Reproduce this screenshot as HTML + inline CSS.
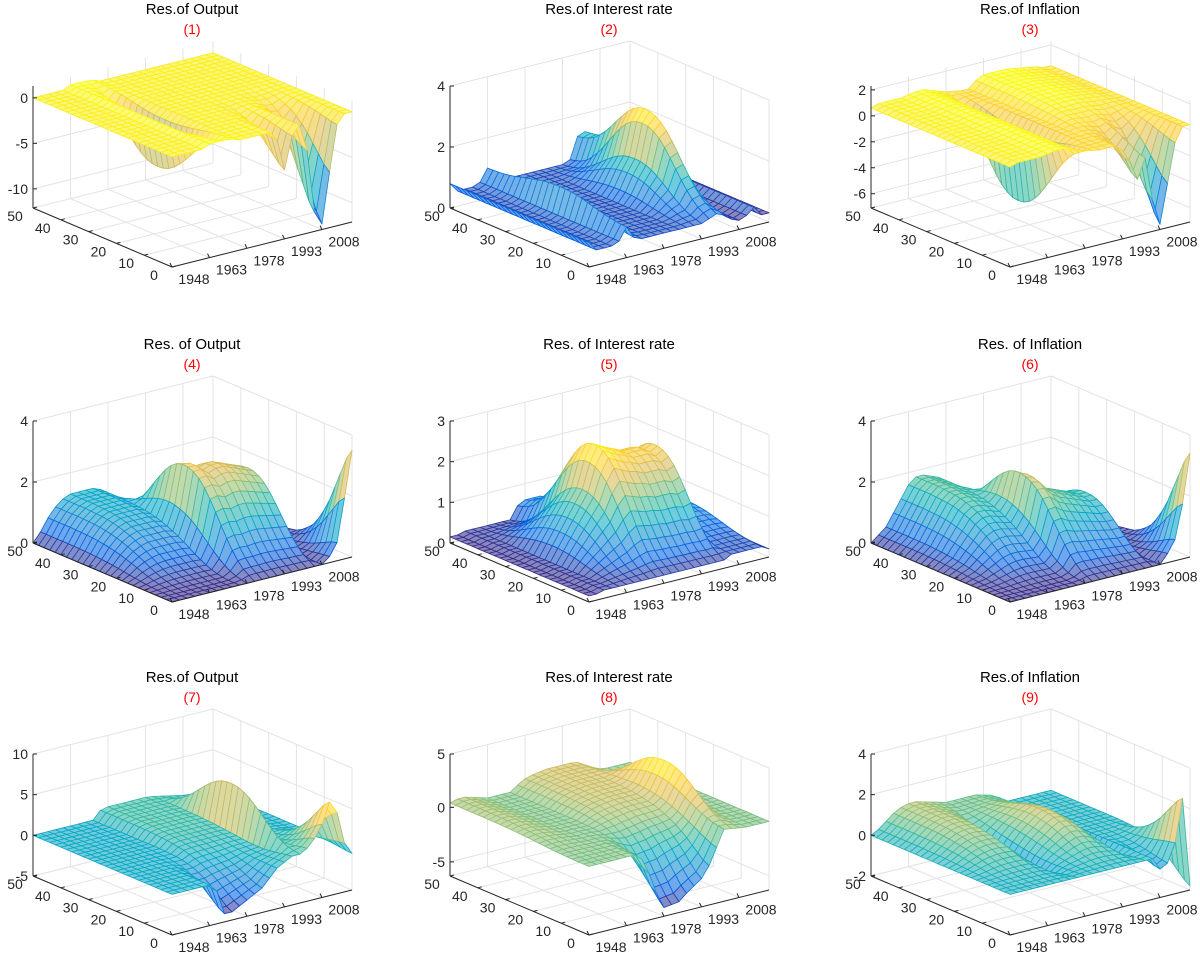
<!DOCTYPE html>
<html><head><meta charset="utf-8"><style>
html,body{margin:0;padding:0;background:#fff;}
svg{display:block;font-family:"Liberation Sans",Arial,sans-serif;}
</style></head>
<body>
<svg id="fig" width="1200" height="955" viewBox="0 0 1200 955"></svg>
<script>
// ---- shared axes data ----
const YEARS = [1948,1951,1954,1957,1960,1963,1966,1969,1972,1975,1978,1981,1984,1987,1990,1993,1996,1999,2002,2005,2008,2011,2014,2017,2020];
const HORIZ = [0,2,4,6,8,10,12,14,16,18,20,22,24,26,28,30,32,34,36,38,40,42,44,46,48,50];
const T_TICKS = [1948,1963,1978,1993,2008];
const H_TICKS = [0,10,20,30,40,50];
// horizon profiles
const SHAPE_FRONT = [1,0.9,0.75,0.6,0.45,0.33,0.23,0.15,0.1,0.06,0.03,0.02,0.01,0,0,0,0,0,0,0,0,0,0,0,0,0];
const SHAPE_MID = [0,0.05,0.1,0.18,0.28,0.4,0.53,0.66,0.78,0.88,0.95,0.99,1,0.99,0.95,0.88,0.78,0.66,0.53,0.4,0.28,0.18,0.1,0.05,0.02,0];
const SHAPE_BACK = [0,0,0,0.02,0.05,0.1,0.16,0.24,0.33,0.43,0.53,0.62,0.7,0.77,0.83,0.88,0.92,0.95,0.97,0.98,0.99,1,1,1,1,1];

// ---- panel 1 ----
const p1Base  = [0,0,0,0,0,0.4,0.4,0.4,0.3,0,0,0,0,0,0,0,0,0,0,0,0,0,0,0,0];
const p1Front = [0,0,0,0,0,0,0,0,0,0,0,0,0,0,-1,-4.5,-1,0,-3,-10,-11.5,-6,-1,0,0];
const p1Mid   = [0,0,0,0,0,0,-1,-6,-1,0,0,0,0,0,0,0,0,0,0,0,0,0,0,0,0];
const p1Back  = [0,0,0,0,0,0,0,0,0,0,0,0,0,0,0,0,0,0,0,0,0,0,0,0,0];
// ---- panel 2 ----
const p2Base  = [0.8,0.5,0.5,0.5,0.6,1.0,0.6,0.5,0.5,0.5,0.5,0.5,0.5,0.5,0.5,0.5,0.6,0.7,0.6,0.4,0.3,0.4,0.6,0.3,0.3];
const p2Front = [0,0,0,0,0,0,0,0,0,0,0,0,0,0,0,0,0,0,0,0,0,0,0,0,0];
const p2Mid   = [0,0,0,0,0,0.4,0.6,0.4,0,0,0,0,0,0.3,0.8,1.2,2.2,2.0,1.0,0.2,0,0,0,0,0];
const p2Back  = [0,0,0,0,0,0,0,0,0,0,0,0,0,0,0,0,0,0.6,0.8,0.6,0,0,0,0,0];
// ---- panel 3 ----
const p3Base  = [0.6,0.8,0.8,0.8,0.8,0.9,1.0,1.0,0.8,0.6,0.4,0.3,0.2,0.2,0.2,0.2,0.2,0.2,0.2,0.3,0.3,0.3,0.3,0.4,0.4];
const p3Front = [0,0,0,0,0,0,0,0,0,0,0,0,0,0,0,-0.5,-1.5,-3,-1.5,-5,-7,-4,-1,0,0];
const p3Mid   = [0,0,0,0,0,0,0,0,0,-1,-6,-1,0,0,0,0,0,0,0,0,0,0,0,0,0];
const p3Back  = [0,0,0,0,0,0,0,0,0,0,0,0,0,0,0.5,0.8,0.8,0.8,0.8,0.6,0.5,0.4,0.3,0,0];
// ---- panel 4 ----
const p4Base  = [0,0,0,0,0,0,0,0,0,0,0,0,0,0,0,0,0,0,0,0,0,0,0,0,0];
const p4Front = [0,0,0,0,0,0,0,0,0,0,0,0,0,0,0,0,0,0,0,0,0,0.2,0.6,2.0,3.5];
const p4Mid   = [0,0,0,0,0,0,0,0,0,0,0.8,2.4,2.6,2.6,2.7,2.7,2.6,2.5,2.4,2.3,0,0,0,0,0];
const p4Back  = [0,0.3,0.7,1.0,1.2,1.3,1.3,1.3,1.3,1.2,1.0,0.6,0.3,0,0,0,0,0,0,0,0,0,0,0,0];
// ---- panel 5 ----
const p5Base  = [0.15,0.15,0.2,0.2,0.2,0.2,0.2,0.2,0.2,0.2,0.2,0.2,0.2,0.2,0.2,0.2,0.2,0.2,0.2,0.3,0.3,0.3,0.3,0.3,0.2];
const p5Front = [0,0,0,0,0,0,0,0,0,0,0,0,0,0,0,0,0,0,0,0,0,0,0,0,0];
const p5Mid   = [0,0,0,0,0.3,0.6,0.9,1.2,1.5,1.9,2.2,2.1,2.0,2.0,1.9,1.9,1.9,1.8,1.9,0.2,0.2,0.2,0.2,0.2,0];
const p5Back  = [0,0,0,0,0,0,0,0,0,0.3,0.4,0.4,0.4,0.3,0.3,0.3,0.3,0.3,0.3,0.3,0.3,0.3,0.3,0.2,0.1];
// ---- panel 6 ----
const p6Base  = [0,0,0,0,0,0,0,0,0,0,0,0,0,0,0,0,0,0,0,0,0,0,0,0,0];
const p6Front = [0,0,0,0,0,0,0,0,0,0,0,0,0,0,0,0,0,0,0,0,0,0.3,0.7,1.8,3.4];
const p6Mid   = [0,0,0,0,0,0,0,0,0,0,0.5,1.8,2.0,1.9,1.9,1.8,1.7,1.6,1.5,1.5,0,0,0,0,0];
const p6Back  = [0,0.2,0.4,0.8,1.2,1.6,1.8,1.8,1.7,1.6,1.4,1.0,0.6,0.3,0,0,0,0,0,0,0,0,0,0,0];
// ---- panel 7 ----
const p7Base  = [0,0,0,0,0,0,0,0,0,0,0,0,0,0,0,0,0,0,0,0,0,0,0,0,0];
const p7Front = [0,0,0,0,0,0,-1,-4,-4,-3.5,-3,-2.5,-2,-1,0,0.5,1,1,1.5,2.5,4,6.5,5,1,-0.5];
const p7Mid   = [0,0,0,0,0,0,0,0,0,0,0,0,0,0,0,0,0,5.5,1,0,0,0,0,0,0];
const p7Back  = [0,0,0,0,0,0,0,0,0,1.0,1.2,1.2,1.2,1.2,1.2,1.2,1.1,0.9,0.7,0.5,0.3,0.2,0.1,0,0];
// ---- panel 8 ----
const p8Base  = [0,0,0,0,0,0,0,0,0,0,0,0.1,0.2,0.3,0.3,0.3,0.3,0.3,0.3,0.2,0.1,0,0,0,0];
const p8Front = [0,0,0,0,0,0,0,-0.5,-2,-4,-5.5,-5.5,-5.5,-5,-4.5,-4,-3,-1.5,0,0,0,0,0,0,0];
const p8Mid   = [0,0,0,0,0,0,0,0,0,0,0,0,0,0,0,0,0,0.5,2.0,3.5,1.5,0.3,0,0,0];
const p8Back  = [0.4,0.6,0.6,0.4,0.2,0,0,0,0,0.5,0.9,1.0,1.0,1.0,1.0,1.0,1.0,0.9,0.5,0.2,0,0,0,0,0];
// ---- panel 9 ----
const p9Base  = [0,0,0,0,0,0,0,0,0,0,0,0,0,0,0,0,0,0,0,0,0,0,0,0,0];
const p9Front = [0,0,0,0,0,0,0,0,0,0,0,0,0,0,0,0,0,0,0,0,-0.6,-0.4,0.5,2.6,-1.8];
const p9Mid   = [0,0,0,0,0,0,0,0,-0.3,-1.0,-0.4,0,0.3,0.6,0.8,0.8,0.6,0.3,-0.6,0,0,0,0,0,0];
const p9Back  = [0,0.2,0.5,0.8,1.0,1.1,1.1,1.0,0.9,0.8,0.7,0.7,0.7,0.7,0.7,0.6,0.5,0.3,0,0,0,0,0,0,0];

const P1_ZTICKS=[-10,-5,0], P2_ZTICKS=[0,2,4], P3_ZTICKS=[-6,-4,-2,0,2];
const P4_ZTICKS=[0,2,4], P5_ZTICKS=[0,1,2,3], P6_ZTICKS=[0,2,4];
const P7_ZTICKS=[-5,0,5,10], P8_ZTICKS=[-5,0,5], P9_ZTICKS=[-2,0,2,4];

const panels = [
 {n:1,title:"Res.of Output",ox:0,oy:0,zmin:-12.1,zmax:1.3,zt:P1_ZTICKS,base:p1Base,front:p1Front,mid:p1Mid,back:p1Back},
 {n:2,title:"Res.of Interest rate",ox:417,oy:0,zmin:0,zmax:4,zt:P2_ZTICKS,base:p2Base,front:p2Front,mid:p2Mid,back:p2Back},
 {n:3,title:"Res.of Inflation",ox:838,oy:0,zmin:-7.1,zmax:2.3,zt:P3_ZTICKS,base:p3Base,front:p3Front,mid:p3Mid,back:p3Back},
 {n:4,title:"Res. of Output",ox:0,oy:335,zmin:0,zmax:4,zt:P4_ZTICKS,base:p4Base,front:p4Front,mid:p4Mid,back:p4Back},
 {n:5,title:"Res. of Interest rate",ox:417,oy:335,zmin:0,zmax:3,zt:P5_ZTICKS,base:p5Base,front:p5Front,mid:p5Mid,back:p5Back},
 {n:6,title:"Res. of Inflation",ox:838,oy:335,zmin:0,zmax:4,zt:P6_ZTICKS,base:p6Base,front:p6Front,mid:p6Mid,back:p6Back},
 {n:7,title:"Res.of Output",ox:0,oy:668,zmin:-5,zmax:10,zt:P7_ZTICKS,base:p7Base,front:p7Front,mid:p7Mid,back:p7Back},
 {n:8,title:"Res.of Interest rate",ox:417,oy:668,zmin:-6.3,zmax:4.9,zt:P8_ZTICKS,base:p8Base,front:p8Front,mid:p8Mid,back:p8Back},
 {n:9,title:"Res.of Inflation",ox:838,oy:668,zmin:-2,zmax:4,zt:P9_ZTICKS,base:p9Base,front:p9Front,mid:p9Mid,back:p9Back}
];

const NS="http://www.w3.org/2000/svg";
const svg=document.getElementById('fig');
function mk(tag,attrs,parent){const e=document.createElementNS(NS,tag);for(const k in attrs)e.setAttribute(k,attrs[k]);(parent||svg).appendChild(e);return e;}

const STOPS=[[0,[53,42,135]],[0.125,[3,99,225]],[0.25,[20,133,212]],[0.375,[6,167,198]],[0.5,[56,185,158]],[0.625,[146,191,115]],[0.75,[217,186,86]],[0.875,[252,206,46]],[1,[249,251,14]]];
function parula(v,w){v=Math.max(0,Math.min(1,v));let i=0;while(i<STOPS.length-2&&v>STOPS[i+1][0])i++;
 const a=STOPS[i],b=STOPS[i+1],f=(v-a[0])/(b[0]-a[0]);
 const c=[0,1,2].map(k=>Math.round((a[1][k]+(b[1][k]-a[1][k])*f)*(1-w)+255*w));
 return `rgb(${c[0]},${c[1]},${c[2]})`;}

panels.forEach(p=>{
 const g=mk('g',{});
 
 
 const tn=t=>(t-1948)/72, hn=h=>h/50;
 const zy=z=>122*(Math.max(p.zmin,Math.min(p.zmax,z))-p.zmin)/(p.zmax-p.zmin);
 const X=(t,h)=>p.ox+172+180*tn(t)-139*hn(h);
 const Yf=(t,h)=>p.oy+267-45*tn(t)-59*hn(h);
 const P=(t,h,z)=>[X(t,h),Yf(t,h)-zy(z)];
 // grid
 const grid=mk('g',{stroke:'#e3e3e3','stroke-width':1,fill:'none'},g);
 
 
 const ln=(a,b,par)=>mk('line',{x1:a[0],y1:a[1],x2:b[0],y2:b[1]},par);
 p.zt.forEach(z=>{ln(P(1948,50,z),P(2020,50,z),grid);ln(P(2020,50,z),P(2020,0,z),grid);});
 T_TICKS.forEach(t=>{ln(P(t,0,p.zmin),P(t,50,p.zmin),grid);ln(P(t,50,p.zmin),P(t,50,p.zmax),grid);});
 H_TICKS.forEach(h=>{ln(P(1948,h,p.zmin),P(2020,h,p.zmin),grid);ln(P(2020,h,p.zmin),P(2020,h,p.zmax),grid);});
 ln(P(2020,50,p.zmin),P(2020,50,p.zmax),grid);
 // surface values
 const Z=YEARS.map((t,i)=>HORIZ.map((h,j)=>p.base[i]+p.front[i]*SHAPE_FRONT[j]+p.mid[i]*SHAPE_MID[j]+p.back[i]*SHAPE_BACK[j]));
 let mn=Infinity,mx=-Infinity;Z.forEach(r=>r.forEach(v=>{mn=Math.min(mn,v);mx=Math.max(mx,v);}));
 if(mx-mn<1e-6)mx=mn+1;
 const quads=[];
 for(let i=0;i<YEARS.length-1;i++)for(let j=0;j<HORIZ.length-1;j++){
   const t0=YEARS[i],t1=YEARS[i+1],h0=HORIZ[j],h1=HORIZ[j+1];
   const zs=[Z[i][j],Z[i+1][j],Z[i+1][j+1],Z[i][j+1]];
   const zavg=(zs[0]+zs[1]+zs[2]+zs[3])/4;
   quads.push({d:Yf((t0+t1)/2,(h0+h1)/2),pts:[P(t0,h0,zs[0]),P(t1,h0,zs[1]),P(t1,h1,zs[2]),P(t0,h1,zs[3])],c:(zavg-mn)/(mx-mn)});
 }
 quads.sort((a,b)=>a.d-b.d);
 const surf=mk('g',{'stroke-width':0.8,'stroke-linejoin':'round'},g);
 
 
 quads.forEach(q=>{
   const poly=mk('polygon',{points:q.pts.map(a=>a[0].toFixed(1)+','+a[1].toFixed(1)).join(' '),fill:parula(q.c,0.42),stroke:parula(q.c,0)},surf);
   
   
 });
 // axes
 const ax=mk('g',{stroke:'#262626','stroke-width':1},g);
 
 
 ln(P(1948,50,p.zmin),P(1948,50,p.zmax),ax);
 ln(P(1948,50,p.zmin),P(1948,0,p.zmin),ax);
 ln(P(1948,0,p.zmin),P(2020,0,p.zmin),ax);
 const lab=mk('g',{fill:'#262626','font-size':14},g);
 
 
 p.zt.forEach(z=>{const a=P(1948,50,z);
   ln(a,[a[0]+4,a[1]],ax);
   const t=mk('text',{x:a[0]-5,y:a[1]+5,'text-anchor':'end'},lab);t.textContent=String(z);
   
   });
 H_TICKS.forEach(h=>{const a=P(1948,h,p.zmin);
   ln(a,[a[0]+4,a[1]-1],ax);
   const t=mk('text',{x:a[0]-18,y:a[1]+13,'text-anchor':'middle'},lab);t.textContent=String(h);
   
   });
 T_TICKS.forEach(tt=>{const a=P(tt,0,p.zmin);
   ln(a,[a[0]-2,a[1]-4],ax);
   const t=mk('text',{x:a[0]+22,y:a[1]+17,'text-anchor':'middle'},lab);t.textContent=String(tt);
   
   });
 const cx=p.ox+192;
 const tt=mk('text',{x:cx,y:p.oy+14,'text-anchor':'middle','font-size':15,fill:'#000'},g);tt.textContent=p.title;
 
 
 const st=mk('text',{x:cx,y:p.oy+34,'text-anchor':'middle','font-size':14,fill:'#ff0000'},g);st.textContent='('+p.n+')';
 
 
});
</script>
</body></html>
